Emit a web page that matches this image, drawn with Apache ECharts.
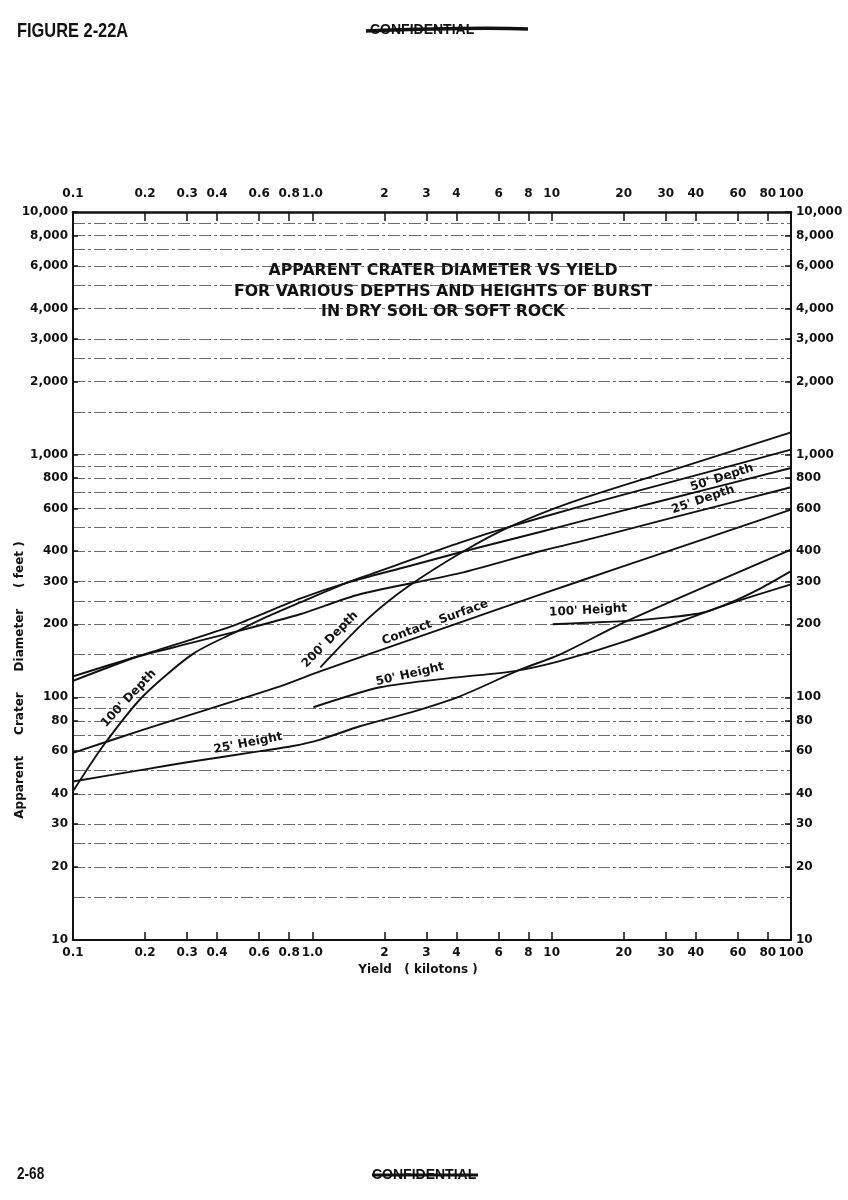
<!DOCTYPE html>
<html>
<head>
<meta charset="utf-8">
<script src="https://cdn.jsdelivr.net/npm/echarts@6/dist/echarts.min.js"></script>
<style>
html,body{margin:0;padding:0;background:#ffffff;}
#chart{width:848px;height:1200px;}
</style>
</head>
<body>
<div id="chart"></div>
<script>
// ---------------- DATA ----------------
const xTickValues = [0.1,0.2,0.3,0.4,0.6,0.8,1,2,3,4,6,8,10,20,30,40,60,80,100];
const xTickLabels = ['0.1','0.2','0.3','0.4','0.6','0.8','1.0','2','3','4','6','8','10','20','30','40','60','80','100'];
const yTickValues = [10,20,30,40,60,80,100,200,300,400,600,800,1000,2000,3000,4000,6000,8000,10000];
const yTickLabels = ['10','20','30','40','60','80','100','200','300','400','600','800','1,000','2,000','3,000','4,000','6,000','8,000','10,000'];
const yGridValues = [15,20,25,30,40,50,60,70,80,90,100,150,200,250,300,400,500,600,700,800,900,1000,1500,2000,2500,3000,4000,5000,6000,7000,8000,9000];

// Yield (kilotons) / apparent crater diameter (feet)
const depth25X = [0.1,0.185,0.3,0.484,0.888,1.58,4.14,8.94,13.1,30,100];
const depth25Y = [122,147,166,187,220,266,325,400,438,541,734];

const depth50X = [0.1,0.185,0.3,0.484,0.888,1.4,2.5,4.27,8.94,13.1,30,100];
const depth50Y = [117,147,171,200,255,297,346,399,480,530,652,881];

const depth100X = [0.1,0.1335,0.196,0.317,0.484,0.647,0.888,1.4,2.2,4.14,6.7,13.1,30,100];
const depth100Y = [41,63,101,151,187,215,246,297,348,434,505,611,762,1049];

const depth200X = [1.08,1.69,2.51,4.27,6.7,12.3,30,100];
const depth200Y = [133,209,286,399,505,641,848,1235];

const contactX = [0.1,0.2,0.733,1.077,3,8.94,19.3,100];
const contactY = [59,74,111,128,182,265,343,594];

const height25X = [0.1,0.2,0.3,0.605,0.83,1.08,1.58,2.56,4.14,7.38,10.8,20.6,100];
const height25Y = [45,50.5,54,60,63,67,76,86.5,101,130,150,206,406];

const height50X = [1.01,1.92,3.88,6.9,10.8,21.3,53.9,100];
const height50Y = [91,110,120.5,128,141,173,241,292];

const height100X = [10.1,14,19.9,30,41.7,53.9,75,100];
const height100Y = [200,203,206,213,222,242,282,331];

const curveNames = ["25' Depth","50' Depth","100' Depth","200' Depth","Contact Surface","25' Height","50' Height","100' Height"];
const curveXs = [depth25X,depth50X,depth100X,depth200X,contactX,height25X,height50X,height100X];
const curveYs = [depth25Y,depth50Y,depth100Y,depth200Y,contactY,height25Y,height50Y,height100Y];

// curve annotations (anchor in data units)
const curveLabelText = ["100' Depth","200' Depth","Contact  Surface","50' Height","25' Height","100' Height","50' Depth","25' Depth"];
const curveLabelX = [0.171,1.186,3.26,2.56,0.539,14.2,51.5,42.9];
const curveLabelY = [99,173,203.5,124.4,64.7,228,804,653];
const curveLabelAngle = [47,45,20,13,11,3,18,19];

// ---------------- CHART ----------------
function fmtFrom(values, labels) {
  return function (v) {
    for (let i = 0; i < values.length; i++) {
      if (Math.abs(Math.log10(v) - Math.log10(values[i])) < 1e-6) return labels[i];
    }
    return '';
  };
}
const INK = '#111111';
const labelFont = {fontFamily: 'DejaVu Sans', fontSize: 12, fontWeight: 'bold', color: INK};

const chart = echarts.init(document.getElementById('chart'), null, {renderer: 'canvas'});

const lineSeries = curveNames.map((n, k) => ({
  type: 'line',
  name: n,
  xAxisIndex: 0,
  yAxisIndex: 0,
  data: curveXs[k].map((v, i) => [v, curveYs[k][i]]),
  showSymbol: false,
  symbol: 'none',
  smooth: 0.25,
  silent: true,
  z: 4,
  lineStyle: {color: INK, width: 1.9}
}));

const labelSeries = {
  type: 'scatter',
  xAxisIndex: 0,
  yAxisIndex: 0,
  symbol: 'circle',
  symbolSize: 0,
  silent: true,
  z: 6,
  itemStyle: {color: INK},
  data: curveLabelText.map((t, i) => ({
    name: t,
    value: [curveLabelX[i], curveLabelY[i]],
    label: {rotate: curveLabelAngle[i]}
  })),
  label: {
    show: true, position: 'inside', formatter: '{b}',
    fontFamily: 'DejaVu Sans', fontSize: 12, fontWeight: 'bold',
    color: INK, textBorderWidth: 0, textShadowBlur: 0, opacity: 1
  },
  emphasis: {disabled: true}
};

const option = {
  animation: false,
  backgroundColor: '#ffffff',
  grid: {left: 73, top: 212, width: 718, height: 728, containLabel: false, outerBoundsMode: 'none'},
  xAxis: [
    {
      type: 'log', logBase: 10, min: 0.1, max: 100, position: 'bottom',
      axisLine: {show: true, lineStyle: {color: INK, width: 2}},
      axisTick: {show: true, inside: true, length: 8, customValues: xTickValues, lineStyle: {color: INK, width: 1.5}},
      axisLabel: Object.assign({show: true, customValues: xTickValues, formatter: fmtFrom(xTickValues, xTickLabels), margin: 7}, labelFont),
      splitLine: {show: false}, minorTick: {show: false}, minorSplitLine: {show: false}
    },
    {
      type: 'log', logBase: 10, min: 0.1, max: 100, position: 'top',
      axisLine: {show: true, lineStyle: {color: INK, width: 2.5}},
      axisTick: {show: true, inside: true, length: 9, customValues: xTickValues, lineStyle: {color: INK, width: 1.5}},
      axisLabel: Object.assign({show: true, customValues: xTickValues, formatter: fmtFrom(xTickValues, xTickLabels), margin: 12}, labelFont),
      splitLine: {show: false}, minorTick: {show: false}, minorSplitLine: {show: false}
    }
  ],
  yAxis: [
    {
      type: 'log', logBase: 10, min: 10, max: 10000, position: 'left',
      axisLine: {show: true, lineStyle: {color: INK, width: 2}},
      axisTick: {show: true, inside: true, length: 5, customValues: yTickValues, lineStyle: {color: INK, width: 1.5}},
      axisLabel: Object.assign({show: true, customValues: yTickValues, formatter: fmtFrom(yTickValues, yTickLabels), margin: 5}, labelFont),
      splitLine: {show: false}, minorTick: {show: false}, minorSplitLine: {show: false}
    },
    {
      type: 'log', logBase: 10, min: 10, max: 10000, position: 'right',
      axisLine: {show: true, lineStyle: {color: INK, width: 2}},
      axisTick: {show: true, inside: true, length: 6, customValues: yTickValues, lineStyle: {color: INK, width: 1.5}},
      axisLabel: Object.assign({show: true, customValues: yTickValues, formatter: fmtFrom(yTickValues, yTickLabels), margin: 5}, labelFont),
      splitLine: {show: false}, minorTick: {show: false}, minorSplitLine: {show: false}
    },
    {
      type: 'log', logBase: 10, min: 10, max: 10000, position: 'left',
      axisLine: {show: false},
      axisTick: {show: false, customValues: yGridValues},
      axisLabel: {show: false},
      splitLine: {show: true, lineStyle: {color: '#3a3a3a', width: 1, type: [12, 3, 3, 3], opacity: 0.75}},
      minorTick: {show: false}, minorSplitLine: {show: false}
    }
  ],
  series: lineSeries.concat([labelSeries]),
  graphic: [
    {type: 'text', x: 17, y: 21, scaleX: 0.82, silent: true,
     style: {text: 'FIGURE 2-22A', font: 'bold 20px "Liberation Sans", sans-serif', fill: INK}},
    {type: 'text', x: 370, y: 23, silent: true,
     style: {text: 'CONFIDENTIAL', font: 'bold 14px "Liberation Sans", sans-serif', fill: INK}},
    {type: 'bezierCurve', silent: true,
     shape: {x1: 366, y1: 31, x2: 528, y2: 29, cpx1: 420, cpy1: 29, cpx2: 480, cpy2: 27},
     style: {stroke: INK, lineWidth: 3.5, fill: null}},
    {type: 'text', x: 17, y: 1167, scaleX: 0.85, silent: true,
     style: {text: '2-68', font: 'bold 16px "Liberation Sans", sans-serif', fill: INK}},
    {type: 'text', x: 372, y: 1168, silent: true,
     style: {text: 'CONFIDENTIAL', font: 'bold 14px "Liberation Sans", sans-serif', fill: INK}},
    {type: 'line', silent: true, shape: {x1: 372, y1: 1175, x2: 478, y2: 1175}, style: {stroke: INK, lineWidth: 3}},
    {type: 'text', x: 443, y: 271, scaleX: 1.05, silent: true,
     style: {text: 'APPARENT CRATER DIAMETER VS YIELD', textAlign: 'center', textVerticalAlign: 'middle', font: 'bold 15px "DejaVu Sans", sans-serif', fill: INK}},
    {type: 'text', x: 443, y: 292, scaleX: 1.05, silent: true,
     style: {text: 'FOR VARIOUS DEPTHS AND HEIGHTS OF BURST', textAlign: 'center', textVerticalAlign: 'middle', font: 'bold 15px "DejaVu Sans", sans-serif', fill: INK}},
    {type: 'text', x: 443, y: 312, scaleX: 1.05, silent: true,
     style: {text: 'IN DRY SOIL OR SOFT ROCK', textAlign: 'center', textVerticalAlign: 'middle', font: 'bold 15px "DejaVu Sans", sans-serif', fill: INK}},
    {type: 'text', x: 418, y: 970, silent: true,
     style: {text: 'Yield   ( kilotons )', textAlign: 'center', textVerticalAlign: 'middle', font: 'bold 12px "DejaVu Sans", sans-serif', fill: INK}},
    {type: 'text', x: 20, y: 680, rotation: Math.PI / 2, silent: true,
     style: {text: 'Apparent     Crater     Diameter     ( feet )', textAlign: 'center', textVerticalAlign: 'middle', font: 'bold 12px "DejaVu Sans", sans-serif', fill: INK}}
  ]
};
chart.setOption(option);
</script>
</body>
</html>
